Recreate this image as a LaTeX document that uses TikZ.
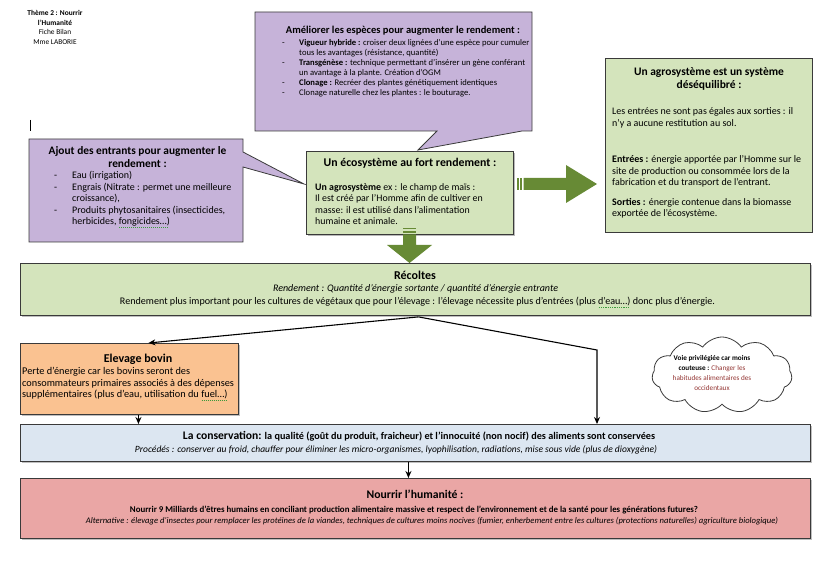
\documentclass[tikz,border=0pt]{standalone}
\usepackage{fontspec}
\setmainfont{Carlito}
\usetikzlibrary{shapes.symbols,shadows,arrows.meta,calc}
\definecolor{purp}{HTML}{C6B3D9}
\definecolor{grn}{HTML}{D4E4BC}
\definecolor{orng}{HTML}{FAC291}
\definecolor{blu}{HTML}{DCE6F1}
\definecolor{pnk}{HTML}{EAA6A5}
\definecolor{arrgrn}{HTML}{678A35}
\definecolor{brd}{HTML}{3A3A3A}
\definecolor{redtxt}{HTML}{943634}
\definecolor{sqg}{HTML}{3C9A3C}
\newcommand\dsh[1]{\makebox[#1][l]{-}}
\newcommand\fs[2]{\fontsize{#1}{#2}\selectfont}
\newsavebox\sqbox
\newcommand\sqw[1]{\sbox{\sqbox}{#1}\rlap{\color{sqg}\lower2.6pt\hbox to\wd\sqbox{\leaders\hbox to 2pt{\hss\rule{1.1pt}{0.6pt}\hss}\hfill}}\usebox{\sqbox}}
\begin{document}
\begin{tikzpicture}[x=1pt,y=-1pt,
  box/.style={draw=brd, line width=0.9pt, anchor=north west, inner sep=0pt},
  shbox/.style={box, drop shadow={shadow xshift=1.5pt, shadow yshift=-1.5pt, opacity=0.5}},
  txt/.style={inner sep=0pt, align=left},
  lbl/.style={anchor=base, inner sep=0pt},
  arr/.style={-{Stealth[length=7pt,width=6pt]}, line width=1.1pt},
  calloutline/.style={draw=brd, line width=0.8pt, fill=purp},
  blockarr/.style={fill=arrgrn, draw=none}]
\useasboundingbox (0,0) rectangle (828,564);

% header
\node[txt, align=center, anchor=north, font=\fs{7.4}{9.7}] (head) at (55,10)
  {\textbf{Thème 2 : Nourrir}\\\textbf{l’Humanité}\\Fiche Bilan\\Mme LABORIE};
\draw[line width=0.6pt] (30,120) -- (30,131);

% left callout
\draw[calloutline] (29,139) -- (243,139) -- (243,152) -- (304,184) -- (243,167) -- (243,242) -- (29,242) -- cycle;
\node[txt, align=center, anchor=north, font=\fs{11.4}{13}\bfseries] (ajt) at (137.5,146.6)
  {Ajout des entrants pour augmenter le\\rendement :};
\node[txt, anchor=north west, font=\fs{10}{11.5}] (ajl) at (54,171.3)
  {\dsh{18pt}Eau (irrigation)\\
   \dsh{18pt}Engrais (Nitrate : permet une meilleure\\
   \hspace*{18pt}croissance),\\
   \dsh{18pt}Produits phytosanitaires (insecticides,\\
   \hspace*{18pt}herbicides, \sqw{fongicides…)}};

% top callout
\draw[calloutline] (255,12) -- (532,12) -- (532,131) -- (522,131) -- (418,150) -- (437,131) -- (255,131) -- cycle;
\node[txt, anchor=north, font=\fs{10.5}{12}\bfseries] (amt) at (403,26.4)
  {Améliorer les espèces pour augmenter le rendement :};
\node[txt, anchor=north west, font=\fs{8.6}{10}] (aml) at (282,39)
  {\dsh{17pt}\textbf{Vigueur hybride :} croiser deux lignées d’une espèce pour cumuler\\
   \hspace*{17pt}tous les avantages (résistance, quantité)\\
   \dsh{17pt}\textbf{Transgénèse :} technique permettant d’insérer un gène conférant\\
   \hspace*{17pt}un avantage à la plante. Création d’OGM\\
   \dsh{17pt}\textbf{Clonage :} Recréer des plantes génétiquement identiques\\
   \dsh{17pt}Clonage naturelle chez les plantes : le bouturage.};

% center box
\node[box, fill=grn, minimum width=207pt, minimum height=83pt,
  drop shadow={shadow xshift=2pt, shadow yshift=-2pt, opacity=0.55}] (eco) at (306,151) {};
\node[txt, anchor=north, font=\fs{11.8}{13}\bfseries] (ecot) at (410,157.8) {Un écosystème au fort rendement :};
\node[txt, anchor=north west, font=\fs{9.9}{11.3}] (ecol) at (315,183.6)
  {\textbf{Un agrosystème} ex : le champ de maïs :\\
   Il est créé par l’Homme afin de cultiver en\\
   masse: il est utilisé dans l’alimentation\\
   humaine et animale.};

% right block arrow
\fill[blockarr] (517,178) rectangle (518.5,190);
\fill[blockarr] (520,178) rectangle (522,190);
\fill[blockarr] (523.5,178) -- (566,178) -- (566,165) -- (597,184) -- (566,203) -- (566,190) -- (523.5,190) -- cycle;
% down block arrow
\fill[blockarr] (403,228) rectangle (416,229.5);
\fill[blockarr] (403,231) rectangle (416,233);
\fill[blockarr] (403,234.5) -- (416,234.5) -- (416,245) -- (432,245) -- (409.5,263) -- (387,245) -- (403,245) -- cycle;

% right box
\node[box, fill=grn, minimum width=207pt, minimum height=174pt] (agro) at (605,58) {};
\node[txt, align=center, anchor=north, font=\fs{11.5}{13}\bfseries] (agrot) at (709,67.6)
  {Un agrosystème est un système\\déséquilibré :};
\node[txt, anchor=north west, font=\fs{10}{11.7}] (agrol) at (612,107.3)
  {Les entrées ne sont pas égales aux sorties : il\\
   n’y a aucune restitution au sol.\\[24.6pt]
   \textbf{Entrées :} énergie apportée par l’Homme sur le\\
   site de production ou consommée lors de la\\
   fabrication et du transport de l’entrant.\\[7.6pt]
   \textbf{Sorties :} énergie contenue dans la biomasse\\
   exportée de l’écosystème.};

% Recoltes
\node[shbox, fill=grn, minimum width=790pt, minimum height=52pt] (recol) at (20,263) {};
\node[lbl, font=\fs{12}{13}\bfseries] (rect1) at (415,279.8) {Récoltes};
\node[lbl, font=\fs{8.6}{10}\itshape] (rect2) at (415.5,292)
  {\resizebox{285pt}{!}{Rendement : Quantité d’énergie sortante / quantité d’énergie entrante}};
\node[lbl, font=\fs{9}{11}] (rect3) at (417.5,304.8)
  {\resizebox{595pt}{!}{Rendement plus important pour les cultures de végétaux que pour l’élevage : l’élevage nécessite plus d’entrées (plus \sqw{d’eau…)} donc plus d’énergie.}};

% Elevage
\node[shbox, fill=orng, minimum width=218pt, minimum height=71pt] (elev) at (20,343) {};
\node[lbl, font=\fs{12}{13}\bfseries] (elevt) at (138,362.8) {Elevage bovin};
\node[txt, anchor=north west, font=\fs{10.3}{11.7}] (elevl) at (22,366.9)
  {Perte d’énergie car les bovins seront des\\
   consommateurs primaires associés à des dépenses\\
   supplémentaires (plus d’eau, utilisation du \sqw{fuel…)}};

% cloud
\node[cloud, cloud puffs=11, cloud puff arc=110, aspect=1.9, draw=brd, line width=0.8pt, fill=white,
  minimum width=140pt, minimum height=76pt, inner sep=0pt] (cloud) at (722,375) {};
\node[txt, align=center, anchor=north, font=\fs{7.2}{9.8}] (cloudt) at (712,355.6)
  {\textbf{Voie privilégiée car moins}\\
   \textbf{couteuse :} \textcolor{redtxt}{Changer les}\\
   \textcolor{redtxt}{habitudes alimentaires des}\\
   \textcolor{redtxt}{occidentaux}};

% conservation
\node[shbox, fill=blu, minimum width=790pt, minimum height=37pt] (cons) at (20,424) {};
\node[lbl, font=\fs{8.8}{10}\bfseries] (const1) at (419,439.2)
  {\resizebox{472pt}{!}{{\fs{10}{12}La conservation:} la qualité (goût du produit, fraicheur) et l’innocuité (non nocif) des aliments sont conservées}};
\node[lbl, font=\fs{8.3}{10}\itshape] (const2) at (396,452)
  {\resizebox{522pt}{!}{Procédés : conserver au froid, chauffer pour éliminer les micro-organismes, lyophilisation, radiations, mise sous vide (plus de dioxygène)}};

% nourrir
\node[shbox, fill=pnk, minimum width=790pt, minimum height=60pt] (nour) at (20,478) {};
\node[lbl, font=\fs{11.7}{13}\bfseries] (nourt1) at (415,498.7) {Nourrir l’humanité :};
\node[lbl, font=\fs{8.5}{10}\bfseries] (nourt2) at (414,512)
  {\resizebox{568pt}{!}{Nourrir 9 Milliards d’êtres humains en conciliant production alimentaire massive et respect de l'environnement et de la santé pour les générations futures?}};
\node[lbl, font=\fs{7}{9}\itshape] (nourt3) at (432,523.7)
  {\resizebox{692pt}{!}{Alternative : élevage d’insectes pour remplacer les protéines de la viandes, techniques de cultures moins nocives (fumier, enherbement entre les cultures (protections naturelles) agriculture biologique)}};

% connectors
\coordinate (rs) at ($(recol.south)+(3,1)$);
\coordinate (elevin) at ($(elev.north)+(19,0)$);
\coordinate (bend) at (597,350);
\coordinate (ea) at ($(elev.south)+(9,0)$);
\coordinate (cs) at ($(cons.south)+(-7,0)$);
\draw[arr] (rs) -- (elevin);
\draw[arr] (rs) -- (bend) -- (bend |- cons.north);
\draw[arr] (ea) -- (ea |- cons.north);
\draw[arr] (cs) -- (cs |- nour.north);
\end{tikzpicture}
\end{document}
